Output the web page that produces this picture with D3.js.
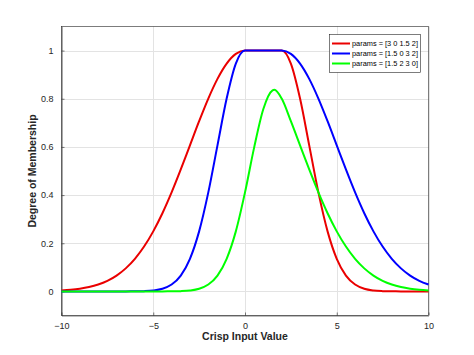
<!DOCTYPE html>
<html><head><meta charset="utf-8">
<script src="https://cdn.jsdelivr.net/npm/d3@7"></script>
<style>html,body{margin:0;padding:0;background:#fff}svg{display:block}</style>
</head><body>
<script>
const xValues = [-10,-9.5,-9,-8.5,-8,-7.5,-7,-6.5,-6,-5.5,-5,-4.5,-4,-3.5,-3,-2.5,-2,-1.5,-1,-0.5,0,0.5,1,1.5,1.6,2,2.5,3,3.5,4,4.5,5,5.5,6,6.5,7,7.5,8,8.5,9,9.5,10];
const redValues = [0.00386,0.00664,0.01111,0.01806,0.02857,0.04394,0.06571,0.09563,0.13534,0.18627,0.24935,0.32465,0.41111,0.50633,0.60653,0.70664,0.80074,0.88250,0.94596,0.98621,1,1,1,1,1,1,0.94596,0.80074,0.60653,0.41111,0.24935,0.13534,0.06571,0.02857,0.01111,0.00386,0.00120,0.00034,0.00008,0.00002,0,0];
const blueValues = [0,0,0,0,0,0,0.00002,0.00008,0.00034,0.00120,0.00386,0.01111,0.02857,0.06571,0.13534,0.24935,0.41111,0.60653,0.80074,0.94596,1,1,1,1,1,1,0.98621,0.94596,0.88250,0.80074,0.70664,0.60653,0.50633,0.41111,0.32465,0.24935,0.18627,0.13534,0.09563,0.06571,0.04394,0.02857];
const greenValues = [0,0,0,0,0,0,0,0,0,0.000004,0.00002,0.00008,0.00034,0.00120,0.00386,0.01111,0.02857,0.06571,0.13534,0.24935,0.41111,0.59817,0.75747,0.83481,0.83713,0.80074,0.70664,0.60653,0.50633,0.41111,0.32465,0.24935,0.18627,0.13534,0.09563,0.06571,0.04394,0.02857,0.01806,0.01111,0.00664,0.00386];
const seriesNames = ["params = [3 0 1.5 2]","params = [1.5 0 3 2]","params = [1.5 2 3 0]"];
const seriesColors = ["#ea0000","#0000ff","#00ff00"];
const xTicks = [-10,-5,0,5,10];
const yTicks = [0,0.2,0.4,0.6,0.8,1];

const W=474,H=355;
const L=61.5,R=428.5,T=26.5,B=315.5;
const svg=d3.select("body").append("svg").attr("width",W).attr("height",H);
svg.append("rect").attr("width",W).attr("height",H).attr("fill","#fff");
const x=d3.scaleLinear().domain([-10,10]).range([L,R]);
const y=d3.scaleLinear().domain([-0.1,1.1]).range([B,T]);
const font="Liberation Sans, Arial, Helvetica, sans-serif";

// grid
const g=svg.append("g");
g.selectAll(".gx").data(xTicks).enter().append("line")
 .attr("x1",d=>Math.round(x(d))+0.5).attr("x2",d=>Math.round(x(d))+0.5).attr("y1",T).attr("y2",B)
 .attr("stroke","#e3e3e3").attr("stroke-width",1);
g.selectAll(".gy").data(yTicks).enter().append("line")
 .attr("y1",d=>Math.round(y(d))+0.5).attr("y2",d=>Math.round(y(d))+0.5).attr("x1",L).attr("x2",R)
 .attr("stroke","#e3e3e3").attr("stroke-width",1);

// box
svg.append("rect").attr("x",L).attr("y",T).attr("width",R-L).attr("height",B-T)
 .attr("fill","none").attr("stroke","#262626").attr("stroke-width",0.6);

// axes
const xAxis=d3.axisBottom(x).tickValues(xTicks).tickSizeInner(-3).tickSizeOuter(0).tickPadding(7).tickFormat(d3.format("d"));
const yAxis=d3.axisLeft(y).tickValues(yTicks).tickSizeInner(-3).tickSizeOuter(0).tickPadding(8).tickFormat(d=>d===0?"0":d===1?"1":d3.format(".1f")(d));
const gx=svg.append("g").attr("transform",`translate(0,${B})`).call(xAxis);
const gy=svg.append("g").attr("transform",`translate(${L},0)`).call(yAxis);
[gx,gy].forEach(a=>{
 a.select(".domain").attr("stroke","#262626").attr("stroke-width",0.6);
 a.selectAll(".tick line").attr("stroke","#262626").attr("stroke-width",0.6);
 a.selectAll("text").attr("fill","#262626").attr("font-size","9px").attr("font-family",font);
});

// lines
const data=[redValues,blueValues,greenValues];
const line=d3.line().x((d,i)=>x(xValues[i])).y(d=>y(d)).curve(d3.curveMonotoneX);
svg.append("g").selectAll("path").data(data).enter().append("path")
 .attr("d",line).attr("fill","none").attr("stroke",(d,i)=>seriesColors[i]).attr("stroke-width",2);

// axis labels
svg.append("text").attr("x",(L+R)/2).attr("y",340).attr("text-anchor","middle")
 .attr("font-family",font).attr("font-size","10.5px").attr("font-weight","bold").attr("fill","#262626").text("Crisp Input Value");
svg.append("text").attr("transform",`translate(36,${(T+B)/2}) rotate(-90)`).attr("text-anchor","middle")
 .attr("font-family",font).attr("font-size","10.5px").attr("font-weight","bold").attr("fill","#262626").text("Degree of Membership");

// legend
const lg=svg.append("g");
lg.append("rect").attr("x",329.5).attr("y",34.5).attr("width",91).attr("height",38)
 .attr("fill","#fff").attr("stroke","#262626").attr("stroke-width",0.6);
seriesNames.forEach((n,i)=>{
 const yy=43.5+i*10;
 lg.append("line").attr("x1",332).attr("x2",350).attr("y1",yy).attr("y2",yy).attr("stroke",seriesColors[i]).attr("stroke-width",2);
 lg.append("text").attr("x",352).attr("y",yy+2.8).attr("font-family",font).attr("font-size","7.4px").attr("fill","#000").text(n);
});
</script>
</body></html>
